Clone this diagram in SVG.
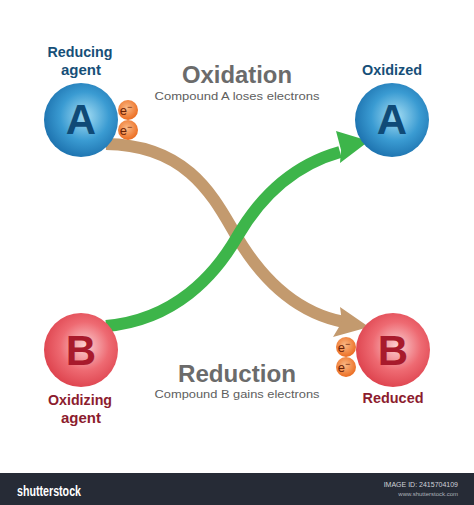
<svg xmlns="http://www.w3.org/2000/svg" width="474" height="505" viewBox="0 0 474 505">
<defs>
<radialGradient id="gBlue" cx="55%" cy="45%" r="60%">
<stop offset="0" stop-color="#a6def4"/>
<stop offset="0.55" stop-color="#3a9bd2"/>
<stop offset="1" stop-color="#1a6eab"/>
</radialGradient>
<radialGradient id="gRed" cx="55%" cy="45%" r="60%">
<stop offset="0" stop-color="#fbd0d3"/>
<stop offset="0.55" stop-color="#ee6a72"/>
<stop offset="1" stop-color="#dc3f4a"/>
</radialGradient>
<radialGradient id="gE" cx="45%" cy="40%" r="60%">
<stop offset="0" stop-color="#fbb985"/>
<stop offset="1" stop-color="#eb6d22"/>
</radialGradient>
<style>
.lbl{font-family:"Liberation Sans",Arial,sans-serif;font-weight:bold;font-size:14px;text-anchor:middle}
.blue{fill:#164f78}
.red{fill:#8c1c2e}
.title{font-family:"Liberation Sans",Arial,sans-serif;font-weight:bold;font-size:23px;fill:#6b6b6b;text-anchor:middle}
.sub{font-family:"Liberation Sans",Arial,sans-serif;font-size:11.5px;fill:#5e5e5e;text-anchor:middle}
.letter{font-family:"Liberation Sans",Arial,sans-serif;font-weight:bold;font-size:42px;text-anchor:middle}
.etxt{font-family:"Liberation Sans",Arial,sans-serif;font-size:13px;fill:#6b2408;text-anchor:middle}
.brown{fill:none;stroke:#c39a6e;stroke-width:12}
.green{fill:none;stroke:#3db54a;stroke-width:12}
</style>
</defs>
<rect width="474" height="505" fill="#ffffff"/>

<g id="connectors">
<path class="brown" d="M106,144 C190,145 215,200 237,237 S 292,312 344,322"/>
<polygon fill="#c39a6e" points="340,307 369,327 333,337 342,322"/>
<path class="green" d="M106,326 C175,320 215,275 237,237 S 290,166 340,152"/>
<polygon fill="#3db54a" points="336,131 369,141 340,163 341,150"/>
</g>

<g id="title-oxidation">
<text class="title" x="237" y="83" textLength="110" lengthAdjust="spacingAndGlyphs">Oxidation</text>
<text class="sub" x="237" y="100" textLength="165" lengthAdjust="spacingAndGlyphs">Compound A loses electrons</text>
</g>
<g id="title-reduction">
<text class="title" x="237" y="382" textLength="118" lengthAdjust="spacingAndGlyphs">Reduction</text>
<text class="sub" x="237" y="398" textLength="165" lengthAdjust="spacingAndGlyphs">Compound B gains electrons</text>
</g>

<g id="node-reducing-agent">
<text class="lbl blue" x="80" y="57" textLength="65" lengthAdjust="spacingAndGlyphs">Reducing</text>
<text class="lbl blue" x="81" y="75" textLength="40" lengthAdjust="spacingAndGlyphs">agent</text>
<circle cx="81" cy="120" r="37" fill="url(#gBlue)"/>
<text class="letter" x="81" y="134" fill="#0f4a77">A</text>
<circle cx="128" cy="110" r="10" fill="url(#gE)"/>
<text class="etxt" x="126" y="115">e<tspan dy="-5" font-size="9">−</tspan></text>
<circle cx="128" cy="130" r="10" fill="url(#gE)"/>
<text class="etxt" x="126" y="135">e<tspan dy="-5" font-size="9">−</tspan></text>
</g>

<g id="node-oxidized">
<text class="lbl blue" x="392" y="75" textLength="60" lengthAdjust="spacingAndGlyphs">Oxidized</text>
<circle cx="392" cy="120" r="37" fill="url(#gBlue)"/>
<text class="letter" x="392" y="134" fill="#0f4a77">A</text>
</g>

<g id="node-oxidizing-agent">
<circle cx="81" cy="350" r="37" fill="url(#gRed)"/>
<text class="letter" x="81" y="365" fill="#a81a2c">B</text>
<text class="lbl red" x="80" y="405" textLength="64" lengthAdjust="spacingAndGlyphs">Oxidizing</text>
<text class="lbl red" x="81" y="423" textLength="40" lengthAdjust="spacingAndGlyphs">agent</text>
</g>

<g id="node-reduced">
<circle cx="393" cy="350" r="37" fill="url(#gRed)"/>
<text class="letter" x="393" y="365" fill="#a81a2c">B</text>
<circle cx="346" cy="347" r="10" fill="url(#gE)"/>
<text class="etxt" x="344" y="352">e<tspan dy="-5" font-size="9">−</tspan></text>
<circle cx="346" cy="367" r="10" fill="url(#gE)"/>
<text class="etxt" x="344" y="372">e<tspan dy="-5" font-size="9">−</tspan></text>
<text class="lbl red" x="393" y="403" textLength="61" lengthAdjust="spacingAndGlyphs">Reduced</text>
</g>

<g id="footer">
<rect x="0" y="473" width="474" height="32" fill="#262b36"/>
<text x="17" y="496" font-family="Liberation Sans,Arial,sans-serif" font-weight="bold" font-size="14" fill="#ffffff" textLength="64" lengthAdjust="spacingAndGlyphs">shutterstock</text>
<text x="458" y="487" font-family="Liberation Sans,Arial,sans-serif" font-size="7" fill="#cfd2d8" text-anchor="end">IMAGE ID: 2415704109</text>
<text x="458" y="496" font-family="Liberation Sans,Arial,sans-serif" font-size="6" fill="#aeb2ba" text-anchor="end">www.shutterstock.com</text>
</g>
</svg>
